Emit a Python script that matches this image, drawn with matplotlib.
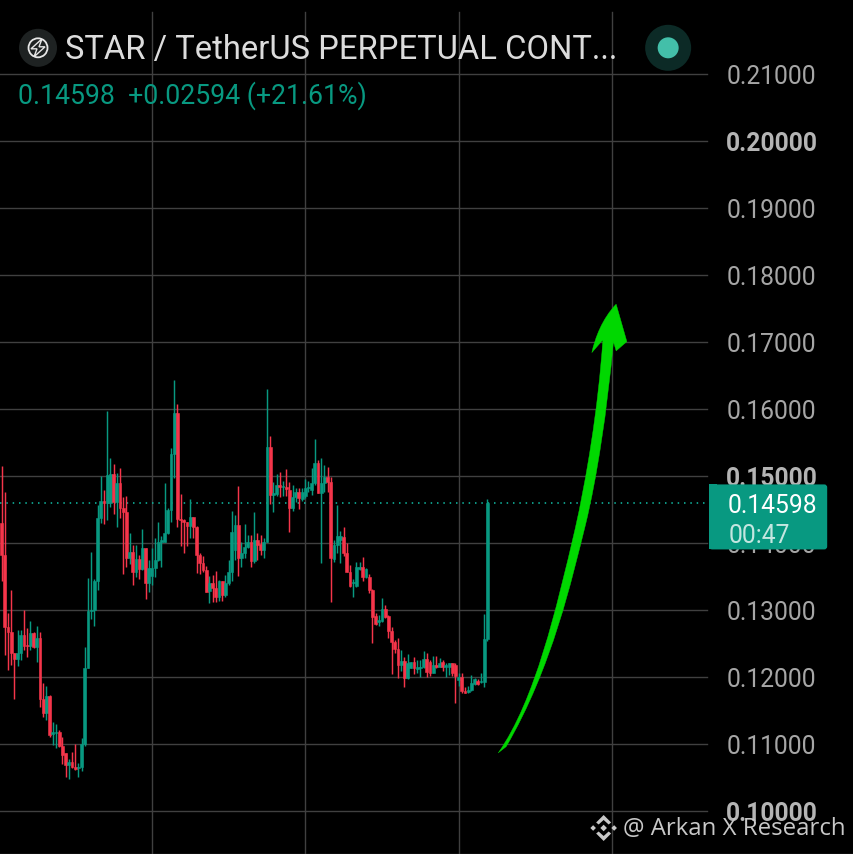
import numpy as np
import matplotlib
matplotlib.use("Agg")
import matplotlib.pyplot as plt
from matplotlib.patches import Circle, Polygon, FancyBboxPatch, Rectangle, PathPatch
from matplotlib.path import Path

# candles, in thousandths of a USDT
opens = [142.93,138.21,127.51,126.77,123.53,122.64,123.63,126.27,124.73,124.63,126.52,124.53,125.87,116.67,114.58,117.16,111.49,111.59,111.74,109.70,
108.61,106.87,107.36,106.62,106.37,106.62,110.00,121.29,129.90,130.00,134.38,143.68,146.27,146.02,146.02,150.25,146.17,149.00,145.27,144.68,
137.81,138.71,135.72,137.56,136.07,139.20,133.98,135.07,136.22,137.46,140.20,140.20,141.44,144.92,153.28,159.35,143.53,143.43,143.08,142.59,
143.83,142.34,138.21,136.97,135.97,132.88,133.98,133.23,131.99,134.38,132.24,133.98,135.62,138.96,142.69,137.81,138.56,139.45,140.20,137.36,
140.45,139.85,138.96,140.20,154.38,147.16,147.31,148.66,148.31,148.41,147.91,145.27,146.91,147.66,146.52,147.01,148.16,147.91,148.90,151.99,
147.41,149.00,149.90,149.15,137.56,139.70,140.45,140.85,138.56,135.72,133.98,133.58,136.17,136.37,134.88,134.88,132.98,129.10,128.26,128.41,
130.20,129.10,126.92,125.27,124.13,121.79,122.39,119.80,121.39,122.19,121.19,121.29,121.44,122.64,122.29,120.65,121.79,121.54,122.29,121.54,
121.54,122.04,121.79,119.55,119.95,117.96,117.81,118.06,118.96,119.45,119.25,119.30,125.72]
highs = [151.49,147.66,129.60,132.98,123.63,127.01,127.01,130.00,127.26,128.41,126.77,127.61,126.77,119.05,118.66,117.31,113.23,112.98,112.09,111.10,
108.61,107.71,108.86,110.00,107.21,110.85,124.43,134.73,138.71,134.58,145.67,150.00,147.91,159.70,152.74,151.79,150.40,151.14,146.91,147.01,
141.44,139.70,139.70,138.21,142.04,139.20,137.46,139.20,140.70,143.08,141.04,148.90,145.17,154.13,164.33,160.75,147.26,143.53,143.18,146.52,
143.83,142.54,138.56,138.06,136.57,135.07,135.22,135.87,134.48,134.38,135.22,137.46,144.83,144.13,148.51,140.20,142.84,141.19,141.19,144.58,
141.44,141.19,140.70,162.98,155.97,149.05,150.30,150.60,149.30,150.99,149.15,148.66,148.16,148.16,148.16,149.50,149.30,151.14,155.52,152.39,
152.64,151.64,151.29,149.80,140.45,145.67,141.74,142.34,139.95,136.72,134.58,137.21,137.21,137.86,136.22,135.32,133.08,129.50,129.25,131.84,
130.75,129.25,127.51,125.52,125.77,124.03,123.04,123.43,122.29,123.04,122.54,122.54,123.93,123.53,122.54,123.13,123.13,122.79,122.54,122.04,
122.14,122.04,122.04,120.55,120.65,118.56,118.66,120.30,119.80,119.65,120.65,129.40,146.52]
lows = [134.38,123.28,121.05,121.79,116.72,121.64,122.54,124.03,123.04,124.03,124.28,122.29,115.57,114.08,113.58,111.10,109.85,109.35,109.60,107.00,
105.03,104.73,106.37,106.12,105.13,106.02,109.70,121.29,128.61,127.61,132.98,143.03,142.84,143.43,145.42,144.33,142.44,143.68,135.37,136.37,
136.82,133.73,134.87,134.58,135.97,131.64,132.74,133.73,134.87,137.36,136.37,140.20,141.34,143.18,149.65,142.34,139.60,138.56,139.55,140.70,
140.70,135.57,135.37,135.72,132.74,131.09,131.24,131.24,131.39,131.34,131.89,133.73,134.38,137.46,135.07,136.47,137.71,139.20,136.37,136.97,
137.46,138.21,137.71,140.20,145.82,144.68,147.01,146.91,147.01,147.01,141.69,144.83,146.17,145.02,146.32,146.67,147.66,147.16,148.66,147.41,
137.06,147.66,147.66,131.24,137.21,138.46,137.06,138.06,135.72,133.48,131.99,133.48,135.97,134.38,134.73,132.59,125.12,127.76,127.61,128.26,
128.76,125.77,120.45,123.53,119.80,120.95,118.56,119.65,121.29,120.45,120.55,120.05,121.29,120.05,120.15,120.55,121.29,121.44,120.95,120.05,
120.30,120.15,116.17,118.66,117.66,117.56,117.66,117.96,118.81,118.81,119.15,118.56,125.42]
closes = [138.21,127.51,126.77,123.53,122.64,123.63,126.27,124.63,124.63,126.52,124.53,125.87,116.67,114.58,117.16,111.34,111.74,111.74,109.70,108.36,
106.87,107.36,106.62,106.22,106.62,110.00,121.29,129.90,130.00,134.38,143.68,146.27,146.02,150.15,150.25,146.17,149.00,145.27,144.68,137.81,
138.71,135.72,137.56,136.07,139.20,133.98,136.22,136.22,137.46,140.20,140.45,141.44,144.92,153.28,159.35,143.53,143.43,143.08,142.59,143.83,
142.34,138.21,136.97,135.97,132.74,133.98,133.23,131.99,134.38,132.24,133.98,135.62,141.59,142.69,137.81,138.56,139.45,140.20,137.36,140.45,
139.70,138.96,140.20,154.38,147.16,147.41,148.66,148.31,148.51,148.01,145.27,146.91,147.66,146.77,147.66,148.16,148.41,148.90,151.99,147.51,
149.00,149.90,149.15,137.71,139.70,141.04,141.04,138.56,135.72,133.58,134.23,136.37,136.37,134.88,136.07,132.98,128.99,127.91,128.51,130.20,
128.99,126.92,125.27,124.13,121.79,122.39,119.80,122.04,122.19,121.29,121.54,121.54,122.64,120.80,120.65,121.79,121.44,122.14,121.54,121.79,
122.04,120.55,120.15,119.95,117.96,117.66,118.06,119.15,119.65,118.96,119.45,125.72,145.98]

price_ticks = [0.21, 0.20, 0.19, 0.18, 0.17, 0.16, 0.15, 0.14, 0.13, 0.12, 0.11, 0.10]
bold_ticks = [0.20, 0.15, 0.10]
time_grid = [47, 95, 143, 191]
last_price = 0.14598

title_text = "STAR / TetherUS PERPETUAL CONT..."
quote_text = "0.14598  +0.02594 (+21.61%)"
timer_text = "00:47"
credit_text = "@ Arkan X Research"

UP, DOWN = "#089981", "#F5354A"
GRID = "#404040"
W, H = 853, 854
plt.rcParams["font.family"] = ["Roboto", "DejaVu Sans"]

fig = plt.figure(figsize=((W + 0.2) / 100, (H + 0.2) / 100), dpi=100, facecolor="black")
ax = fig.add_axes([0, 0, 1, 1], facecolor="black")
ax.set_xlim(-0.532, 266.45)
ax.set_ylim(0.09358, 0.22104)
ax.axis("off")

o, h, l, c = [np.array(a) / 1000 for a in (opens, highs, lows, closes)]
idx = np.arange(len(o))
cols = [UP if cc >= oo else DOWN for oo, cc in zip(o, c)]

for p in price_ticks:
    ax.axhline(p, xmin=0, xmax=707 / W, color=GRID, lw=1.0, zorder=1)
for t in time_grid:
    ax.axvline(t, ymin=0, ymax=1 - 12 / H, color=GRID, lw=1.0, zorder=1)
ax.axhline(0.09365, color=GRID, lw=1.0, zorder=1)
ax.axhline(last_price, xmin=0, xmax=707 / W, color="#10B09A", lw=1.2,
           ls=(0, (0.9, 2.9)), zorder=2)

ax.vlines(idx, l, h, colors=cols, lw=1.05, zorder=3)
ax.bar(idx, np.abs(c - o), bottom=np.minimum(o, c), width=0.88, color=cols,
       edgecolor=cols, linewidth=0.4, zorder=4)

# overlay in picture units for arrow, badges and labels
ov = fig.add_axes([0, 0, 1, 1], facecolor="none")
ov.set_xlim(0, W)
ov.set_ylim(H, 0)
ov.axis("off")

C = Path.CURVE4
L = Path.LINETO
arrow_pts = [
    ((498.3, 752.7), Path.MOVETO),
    ((535, 700), C), ((556, 610), C), ((575, 529), C),
    ((586, 480), C), ((598, 410), C), ((602.7, 340), C),
    ((591.7, 352.7), L),
    ((595, 338), C), ((602, 319), C), ((616, 304.3), C),
    ((626.7, 341.7), L), ((616, 351), L), ((613.3, 341.7), L),
    ((607, 410), C), ((597, 477), C), ((585.3, 525), C),
    ((572, 578), C), ((552, 668), C), ((506, 746.7), C),
    ((498.3, 752.7), L),
]
ov.add_patch(PathPatch(Path([a for a, _ in arrow_pts], [b for _, b in arrow_pts]),
                       fc="#00D800", ec="#00D800", lw=0.3, zorder=5))

for p in price_ticks:
    y = 811 - (p - 0.10) * 6700
    bold = any(abs(p - b) < 1e-9 for b in bold_ticks)
    ov.text(771.5, y + 2.5, f"{p:.5f}", color="#b4b4b4" if bold else "#a6a6a6", fontsize=17.7,
            fontweight="bold" if bold else "normal", ha="center", va="center", zorder=6)

ov.add_patch(FancyBboxPatch((709, 484.5), 118, 65, boxstyle="round,pad=0,rounding_size=3",
                            fc=UP, ec="none", zorder=7))
ov.add_patch(Rectangle((709, 484.5), 8, 65, fc=UP, ec="none", zorder=7))
ov.text(772, 505.5, f"{last_price:.5f}", color="white", fontsize=17.7, ha="center", va="center", zorder=8)
ov.text(728, 535.5, timer_text, color="#c4e6e0", fontsize=17.7, ha="left", va="center", zorder=8)

# header
ov.add_patch(Circle((38, 48), 19, fc="#1e2222", ec="none", zorder=6))
ov.add_patch(Circle((38, 48), 9.5, fc="none", ec="#e6e6e6", lw=1.3, zorder=7))
ov.add_patch(Polygon([(42, 39), (31, 49), (37, 49), (34, 57), (45, 47), (39, 47)],
                     closed=True, fc="#1e2222", ec="#e6e6e6", lw=1.0, zorder=8))
ov.text(65, 49.5, title_text, color="#dcdcdc", fontsize=23.6, ha="left", va="center", zorder=6)
ov.text(18, 95.5, quote_text, color=UP, fontsize=19.2, ha="left", va="center", zorder=6)
ov.add_patch(Circle((668, 48), 23, fc="#0c2a26", ec="none", zorder=6))
ov.add_patch(Circle((668, 48), 10.5, fc="#43BFA9", ec="none", zorder=7))

# credit
LOGO = "#c8c8c8"
cx, cy = 603.5, 828
def diamond(x, y, r):
    return [(x, y - r), (x + r, y), (x, y + r), (x - r, y)]
for dx, dy, r in [(0, 0, 3.3), (-10.5, 0, 2.8), (10.5, 0, 2.8)]:
    ov.add_patch(Polygon(diamond(cx + dx, cy + dy, r), closed=True, fc=LOGO, ec="none", zorder=9))
for s in (-1, 1):
    ov.add_patch(Polygon([(cx, cy + s * 13), (cx + 7.5, cy + s * 5.5), (cx + 5, cy + s * 3.5), (cx, cy + s * 8),
                          (cx - 5, cy + s * 3.5), (cx - 7.5, cy + s * 5.5)],
                         closed=True, fc=LOGO, ec="none", zorder=9))
ov.text(623, 829, credit_text, color="#c8c8c8", fontsize=17.25, family=["Open Sans", "DejaVu Sans"],
        ha="left", va="center", zorder=9)

fig.savefig("out.png", dpi=100, facecolor="black")
